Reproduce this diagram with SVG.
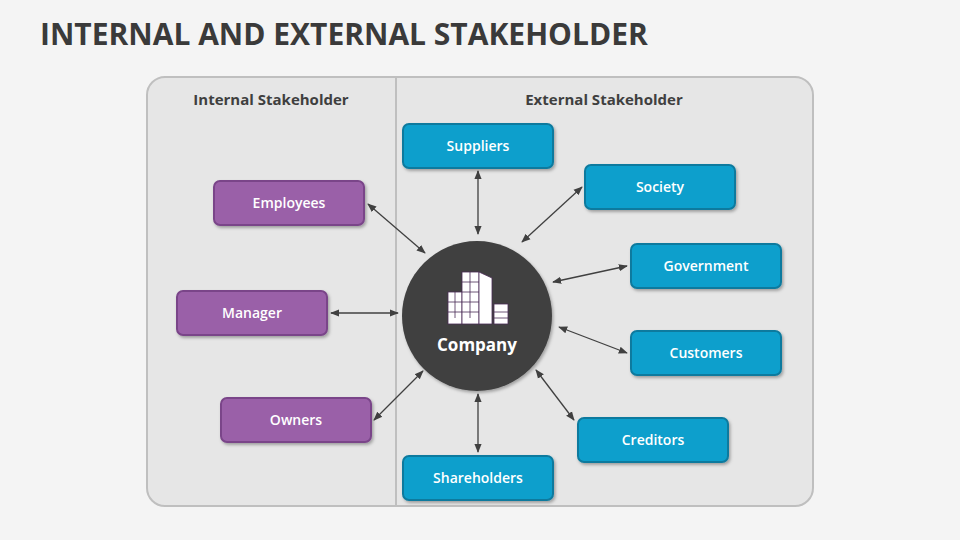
<svg xmlns="http://www.w3.org/2000/svg" width="960" height="540" viewBox="0 0 960 540">
<style>
text{font-family:"Open Sans","Liberation Sans",sans-serif;font-weight:600;text-anchor:middle}
.lbl{fill:#fff;font-size:14px}
.hdr{fill:#3f3f3f;font-size:15px;font-weight:700}
.p{fill:#9a61a8;stroke:#7a4589;stroke-width:2}
.b{fill:#099fcc;stroke:#0a7a9e;stroke-width:2}
.c line{stroke:#404040;stroke-width:1.3;marker-start:url(#a);marker-end:url(#a)}
</style>
<defs>
<marker id="a" viewBox="0 0 10 10" refX="9" refY="5" markerWidth="7" markerHeight="7" orient="auto-start-reverse"><path d="M0,1 L10,5 L0,9 z" fill="#404040"/></marker>
<filter id="s" x="-20%" y="-20%" width="140%" height="150%"><feDropShadow dx="1.5" dy="2" stdDeviation="1.5" flood-opacity="0.3"/></filter>
</defs>
<rect width="960" height="540" fill="#f4f4f4"/>
<text x="40" y="45" style="text-anchor:start;font-size:30px;font-weight:700;fill:#3a3a3a">INTERNAL AND EXTERNAL STAKEHOLDER</text>
<rect x="147" y="77" width="666" height="429" rx="18" fill="#e6e6e6" stroke="#bfbfbf" stroke-width="2"/>
<line x1="396" y1="77" x2="396" y2="506" stroke="#bfbfbf" stroke-width="2"/>
<text class="hdr" x="271" y="105">Internal Stakeholder</text>
<text class="hdr" x="604" y="105">External Stakeholder</text>
<g class="c" id="connectors">
<line x1="368" y1="204" x2="425" y2="253"/>
<line x1="331" y1="313" x2="398" y2="313"/>
<line x1="374" y1="420" x2="423" y2="371"/>
<line x1="478" y1="171" x2="478" y2="234"/>
<line x1="582" y1="187" x2="522" y2="242"/>
<line x1="627" y1="266" x2="553" y2="282"/>
<line x1="627" y1="353" x2="559" y2="327"/>
<line x1="574" y1="420" x2="536" y2="370"/>
<line x1="478" y1="452" x2="478" y2="394"/>
</g>
<g id="company">
<circle cx="477" cy="316" r="75" fill="#404040" filter="url(#s)"/>
<g fill="#fff" stroke="#4a2b55" stroke-width="0.8">
<rect x="448" y="292" width="14" height="32"/>
<rect x="494" y="304" width="14" height="20"/>
<rect x="462" y="272" width="17" height="52"/>
<path d="M479,272 L492,278 L492,324 L479,324 z"/>
</g>
<g stroke="#4a2b55" stroke-width="0.8">
<line x1="462" y1="282" x2="479" y2="282"/><line x1="462" y1="292" x2="479" y2="292"/><line x1="462" y1="302" x2="479" y2="302"/><line x1="462" y1="312" x2="479" y2="312"/><line x1="470" y1="272" x2="470" y2="318"/>
<line x1="448" y1="302" x2="462" y2="302"/><line x1="448" y1="312" x2="462" y2="312"/><line x1="455" y1="292" x2="455" y2="318"/>
<line x1="494" y1="312" x2="508" y2="312"/><line x1="494" y1="318" x2="508" y2="318"/>
</g>
<text class="lbl" x="477" y="351" style="font-size:17px;font-weight:700">Company</text>
</g>
<g id="employees"><rect class="p" x="214" y="181" width="150" height="44" rx="6" filter="url(#s)"/><text class="lbl" x="289" y="208">Employees</text></g>
<g id="manager"><rect class="p" x="177" y="291" width="150" height="44" rx="6" filter="url(#s)"/><text class="lbl" x="252" y="318">Manager</text></g>
<g id="owners"><rect class="p" x="221" y="398" width="150" height="44" rx="6" filter="url(#s)"/><text class="lbl" x="296" y="425">Owners</text></g>
<g id="suppliers"><rect class="b" x="403" y="124" width="150" height="44" rx="6" filter="url(#s)"/><text class="lbl" x="478" y="151">Suppliers</text></g>
<g id="society"><rect class="b" x="585" y="165" width="150" height="44" rx="6" filter="url(#s)"/><text class="lbl" x="660" y="192">Society</text></g>
<g id="government"><rect class="b" x="631" y="244" width="150" height="44" rx="6" filter="url(#s)"/><text class="lbl" x="706" y="271">Government</text></g>
<g id="customers"><rect class="b" x="631" y="331" width="150" height="44" rx="6" filter="url(#s)"/><text class="lbl" x="706" y="358">Customers</text></g>
<g id="creditors"><rect class="b" x="578" y="418" width="150" height="44" rx="6" filter="url(#s)"/><text class="lbl" x="653" y="445">Creditors</text></g>
<g id="shareholders"><rect class="b" x="403" y="456" width="150" height="44" rx="6" filter="url(#s)"/><text class="lbl" x="478" y="483">Shareholders</text></g>
</svg>
